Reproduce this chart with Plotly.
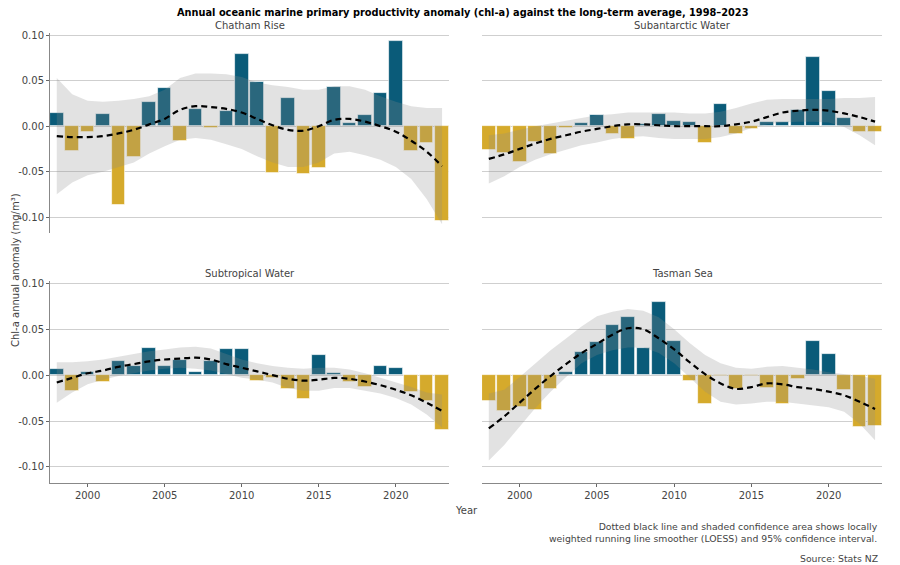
import plotly.graph_objects as go

years = list(range(1998, 2024))

regions = ["Chatham Rise", "Subantarctic Water", "Subtropical Water", "Tasman Sea"]

# annual chl-a anomaly (mg/m3)
chatham = [0.014, -0.027, -0.006, 0.0135, -0.0865, -0.034, 0.027, 0.042, -0.016, 0.0186, -0.002, 0.0168, 0.079,
           0.0485, -0.052, 0.031, -0.053, -0.046, 0.043, 0.0036, 0.0128, 0.037, 0.094, -0.0277, -0.018, -0.104]
subantarctic = [-0.026, -0.030, -0.039, -0.017, -0.031, -0.002, 0.004, 0.012, -0.009, -0.014, 0.002, 0.0135, 0.006,
                0.0044, -0.018, 0.0245, -0.009, -0.0026, 0.0047, 0.005, 0.018, 0.076, 0.0387, 0.009, -0.006, -0.006]
subtropical = [0.007, -0.017, 0.003, -0.008, 0.0156, 0.0095, 0.0295, 0.0095, 0.0164, 0.0036, 0.015, 0.0287, 0.0287,
               -0.006, -0.003, -0.0156, -0.026, 0.0215, 0.002, -0.008, -0.0127, 0.0098, 0.0073, -0.018, -0.028, -0.060]
tasman = [-0.028, -0.039, -0.035, -0.038, -0.015, 0.003, 0.0255, 0.036, 0.055, 0.063, 0.030, 0.080, 0.0375,
          -0.006, -0.031, -0.001, -0.0156, -0.001, -0.014, -0.031, -0.004, 0.037, 0.023, -0.016, -0.056, -0.055]

# LOESS smoother and 95% confidence interval
chatham_fit = [-0.011, -0.012, -0.012, -0.011, -0.008, -0.004, 0.002, 0.008, 0.018, 0.022, 0.021, 0.019, 0.015,
               0.008, 0.001, -0.004, -0.005, 0.000, 0.007, 0.008, 0.005, 0.000, -0.006, -0.016, -0.028, -0.044]
chatham_hi = [0.053, 0.035, 0.028, 0.027, 0.028, 0.030, 0.033, 0.040, 0.053, 0.058, 0.058, 0.057, 0.054,
              0.048, 0.045, 0.043, 0.040, 0.040, 0.044, 0.044, 0.040, 0.033, 0.027, 0.022, 0.020, 0.020]
chatham_lo = [-0.075, -0.062, -0.054, -0.050, -0.045, -0.040, -0.030, -0.022, -0.015, -0.013, -0.015, -0.020, -0.025,
              -0.033, -0.040, -0.045, -0.045, -0.040, -0.030, -0.028, -0.032, -0.037, -0.045, -0.058, -0.080, -0.108]

subantarctic_fit = [-0.036, -0.031, -0.025, -0.019, -0.014, -0.010, -0.006, -0.003, 0.000, 0.002, 0.002, 0.001, 0.000,
                    0.000, 0.000, 0.000, 0.002, 0.005, 0.010, 0.015, 0.017, 0.018, 0.017, 0.014, 0.010, 0.005]
subantarctic_hi = [-0.010, -0.008, -0.004, 0.000, 0.003, 0.006, 0.009, 0.012, 0.013, 0.015, 0.015, 0.015, 0.015,
                   0.014, 0.014, 0.016, 0.020, 0.025, 0.029, 0.030, 0.030, 0.030, 0.030, 0.031, 0.031, 0.032]
subantarctic_lo = [-0.063, -0.055, -0.045, -0.037, -0.031, -0.026, -0.021, -0.018, -0.014, -0.012, -0.011, -0.013, -0.014,
                   -0.014, -0.014, -0.012, -0.008, -0.002, 0.002, 0.004, 0.005, 0.005, 0.004, -0.001, -0.010, -0.021]

subtropical_fit = [-0.008, -0.003, 0.002, 0.005, 0.009, 0.012, 0.015, 0.017, 0.018, 0.019, 0.017, 0.012, 0.008,
                   0.004, 0.000, -0.004, -0.006, -0.005, -0.003, -0.004, -0.007, -0.011, -0.016, -0.022, -0.030, -0.039]
subtropical_hi = [0.014, 0.014, 0.015, 0.017, 0.020, 0.023, 0.026, 0.028, 0.030, 0.031, 0.029, 0.023, 0.017,
                  0.013, 0.010, 0.008, 0.007, 0.008, 0.008, 0.006, 0.002, -0.003, -0.008, -0.013, -0.019, -0.021]
subtropical_lo = [-0.030, -0.019, -0.010, -0.005, -0.001, 0.002, 0.005, 0.007, 0.008, 0.007, 0.005, 0.001, -0.003,
                  -0.005, -0.008, -0.014, -0.017, -0.017, -0.014, -0.014, -0.017, -0.020, -0.025, -0.032, -0.043, -0.057]

tasman_fit = [-0.058, -0.045, -0.030, -0.015, -0.001, 0.012, 0.024, 0.034, 0.044, 0.051, 0.050, 0.040, 0.028,
              0.014, 0.001, -0.009, -0.015, -0.013, -0.009, -0.010, -0.013, -0.015, -0.018, -0.022, -0.029, -0.037]
tasman_hi = [-0.020, -0.016, -0.002, 0.013, 0.027, 0.040, 0.053, 0.064, 0.069, 0.072, 0.070, 0.063, 0.050,
             0.035, 0.022, 0.013, 0.008, 0.007, 0.009, 0.010, 0.008, 0.006, 0.003, 0.001, -0.001, -0.004]
tasman_lo = [-0.093, -0.076, -0.056, -0.036, -0.018, -0.002, 0.013, 0.022, 0.027, 0.030, 0.030, 0.024, 0.013,
             -0.002, -0.018, -0.029, -0.032, -0.031, -0.029, -0.029, -0.031, -0.033, -0.035, -0.040, -0.053, -0.071]

ytick_vals = [-0.10, -0.05, 0.00, 0.05, 0.10]
ytick_text = ["-0.10", "-0.05", "0.00", "0.05", "0.10"]
xtick_vals = [2000, 2005, 2010, 2015, 2020]

series = [
    (chatham, chatham_fit, chatham_hi, chatham_lo),
    (subantarctic, subantarctic_fit, subantarctic_hi, subantarctic_lo),
    (subtropical, subtropical_fit, subtropical_hi, subtropical_lo),
    (tasman, tasman_fit, tasman_hi, tasman_lo),
]

POS = "#0a5b79"
NEG = "#d5aa2c"

# page body has an 8px margin, so the figure is a bit smaller and everything is shifted
OFF = 8
W, H = 900 - OFF, 565 - OFF
ML, MR, MT, MB = 50 - OFF, 18, 33 - OFF, 82
PW, PH = W - ML - MR, H - MT - MB

# panel boxes in screen pixels: (left, right, top, bottom)
boxes = [(50, 449, 33, 233), (482, 882, 33, 233), (50, 449, 281, 483), (482, 882, 281, 483)]


def px_x(p):
    return (p - OFF - ML) / PW


def px_y(p):
    return (H - MB - (p - OFF)) / PH


fig = go.Figure()
for i, (vals, fit, hi, lo) in enumerate(series):
    n = "" if i == 0 else str(i + 1)
    xa, ya = "x" + n, "y" + n
    fig.add_trace(go.Bar(
        x=years, y=vals, xaxis=xa, yaxis=ya, width=0.88,
        marker=dict(color=[POS if v >= 0 else NEG for v in vals],
                    line=dict(color="rgba(255,255,255,0.8)", width=0.8)),
        showlegend=False, hoverinfo="x+y"))
    fig.add_trace(go.Scatter(
        x=years + years[::-1], y=hi + lo[::-1], xaxis=xa, yaxis=ya,
        fill="toself", fillcolor="rgba(140,140,140,0.25)", line=dict(width=0),
        mode="lines", showlegend=False, hoverinfo="skip"))
    fig.add_trace(go.Scatter(
        x=years, y=fit, xaxis=xa, yaxis=ya, mode="lines",
        line=dict(color="black", width=2.2, dash="6px,4px", shape="spline"),
        showlegend=False))

    l, r, t, b = boxes[i]
    left_col = i in (0, 2)
    bottom_row = i in (2, 3)
    fig.layout["xaxis" + n] = dict(
        domain=[px_x(l), px_x(r)], range=[1997.56, 2023.45], anchor=ya,
        tickvals=xtick_vals, showticklabels=bottom_row, automargin=False,
        ticks="outside" if bottom_row else "", ticklen=3, tickcolor="#666",
        showline=bottom_row, linecolor="#888", linewidth=1,
        showgrid=False, zeroline=False,
        tickfont=dict(size=10, color="#444"))
    fig.layout["yaxis" + n] = dict(
        domain=[px_y(b), px_y(t)], range=[-0.1175, 0.1025], anchor=xa,
        tickvals=ytick_vals, ticktext=ytick_text, showticklabels=left_col, automargin=False,
        ticks="outside" if left_col else "", ticklen=3, tickcolor="#666",
        showline=left_col, linecolor="#888", linewidth=1,
        showgrid=True, gridcolor="#cfcfcf", gridwidth=1.3, zeroline=False,
        tickfont=dict(size=10, color="#444"))
    fig.add_annotation(text=regions[i], x=px_x((l + r) / 2), y=px_y(t - 8),
                       xref="paper", yref="paper", showarrow=False,
                       font=dict(size=10, color="#444"), xanchor="center", yanchor="middle")

fig.add_annotation(
    text="<b>Annual oceanic marine primary productivity anomaly (chl-a) against the long-term average, 1998–2023</b>",
    x=px_x(463), y=px_y(12.5), xref="paper", yref="paper", showarrow=False,
    font=dict(size=9.8, color="black"), xanchor="center", yanchor="middle")
fig.add_annotation(text="Chl-a annual anomaly (mg/m³)", x=px_x(15), y=px_y(270), xref="paper", yref="paper",
                   showarrow=False, textangle=-90, xanchor="center", yanchor="middle",
                   font=dict(size=10, color="#444"))
fig.add_annotation(text="Year", x=px_x(466), y=px_y(510), xref="paper", yref="paper",
                   showarrow=False, xanchor="center", yanchor="middle", font=dict(size=10, color="#444"))
fig.add_annotation(
    text="Dotted black line and shaded confidence area shows locally<br>"
         "weighted running line smoother (LOESS) and 95% confidence interval.",
    x=px_x(880), y=px_y(532), xref="paper", yref="paper", showarrow=False,
    xanchor="right", yanchor="middle", align="right", font=dict(size=9.3, color="#444"))
fig.add_annotation(text="Source: Stats NZ", x=px_x(880), y=px_y(558), xref="paper", yref="paper",
                   showarrow=False, xanchor="right", yanchor="middle", font=dict(size=9.3, color="#444"))

fig.update_layout(
    width=W, height=H, margin=dict(l=ML, r=MR, t=MT, b=MB, autoexpand=False),
    paper_bgcolor="white", plot_bgcolor="white", bargap=0,
    font=dict(family="DejaVu Sans"))

fig.write_html("out.html")
